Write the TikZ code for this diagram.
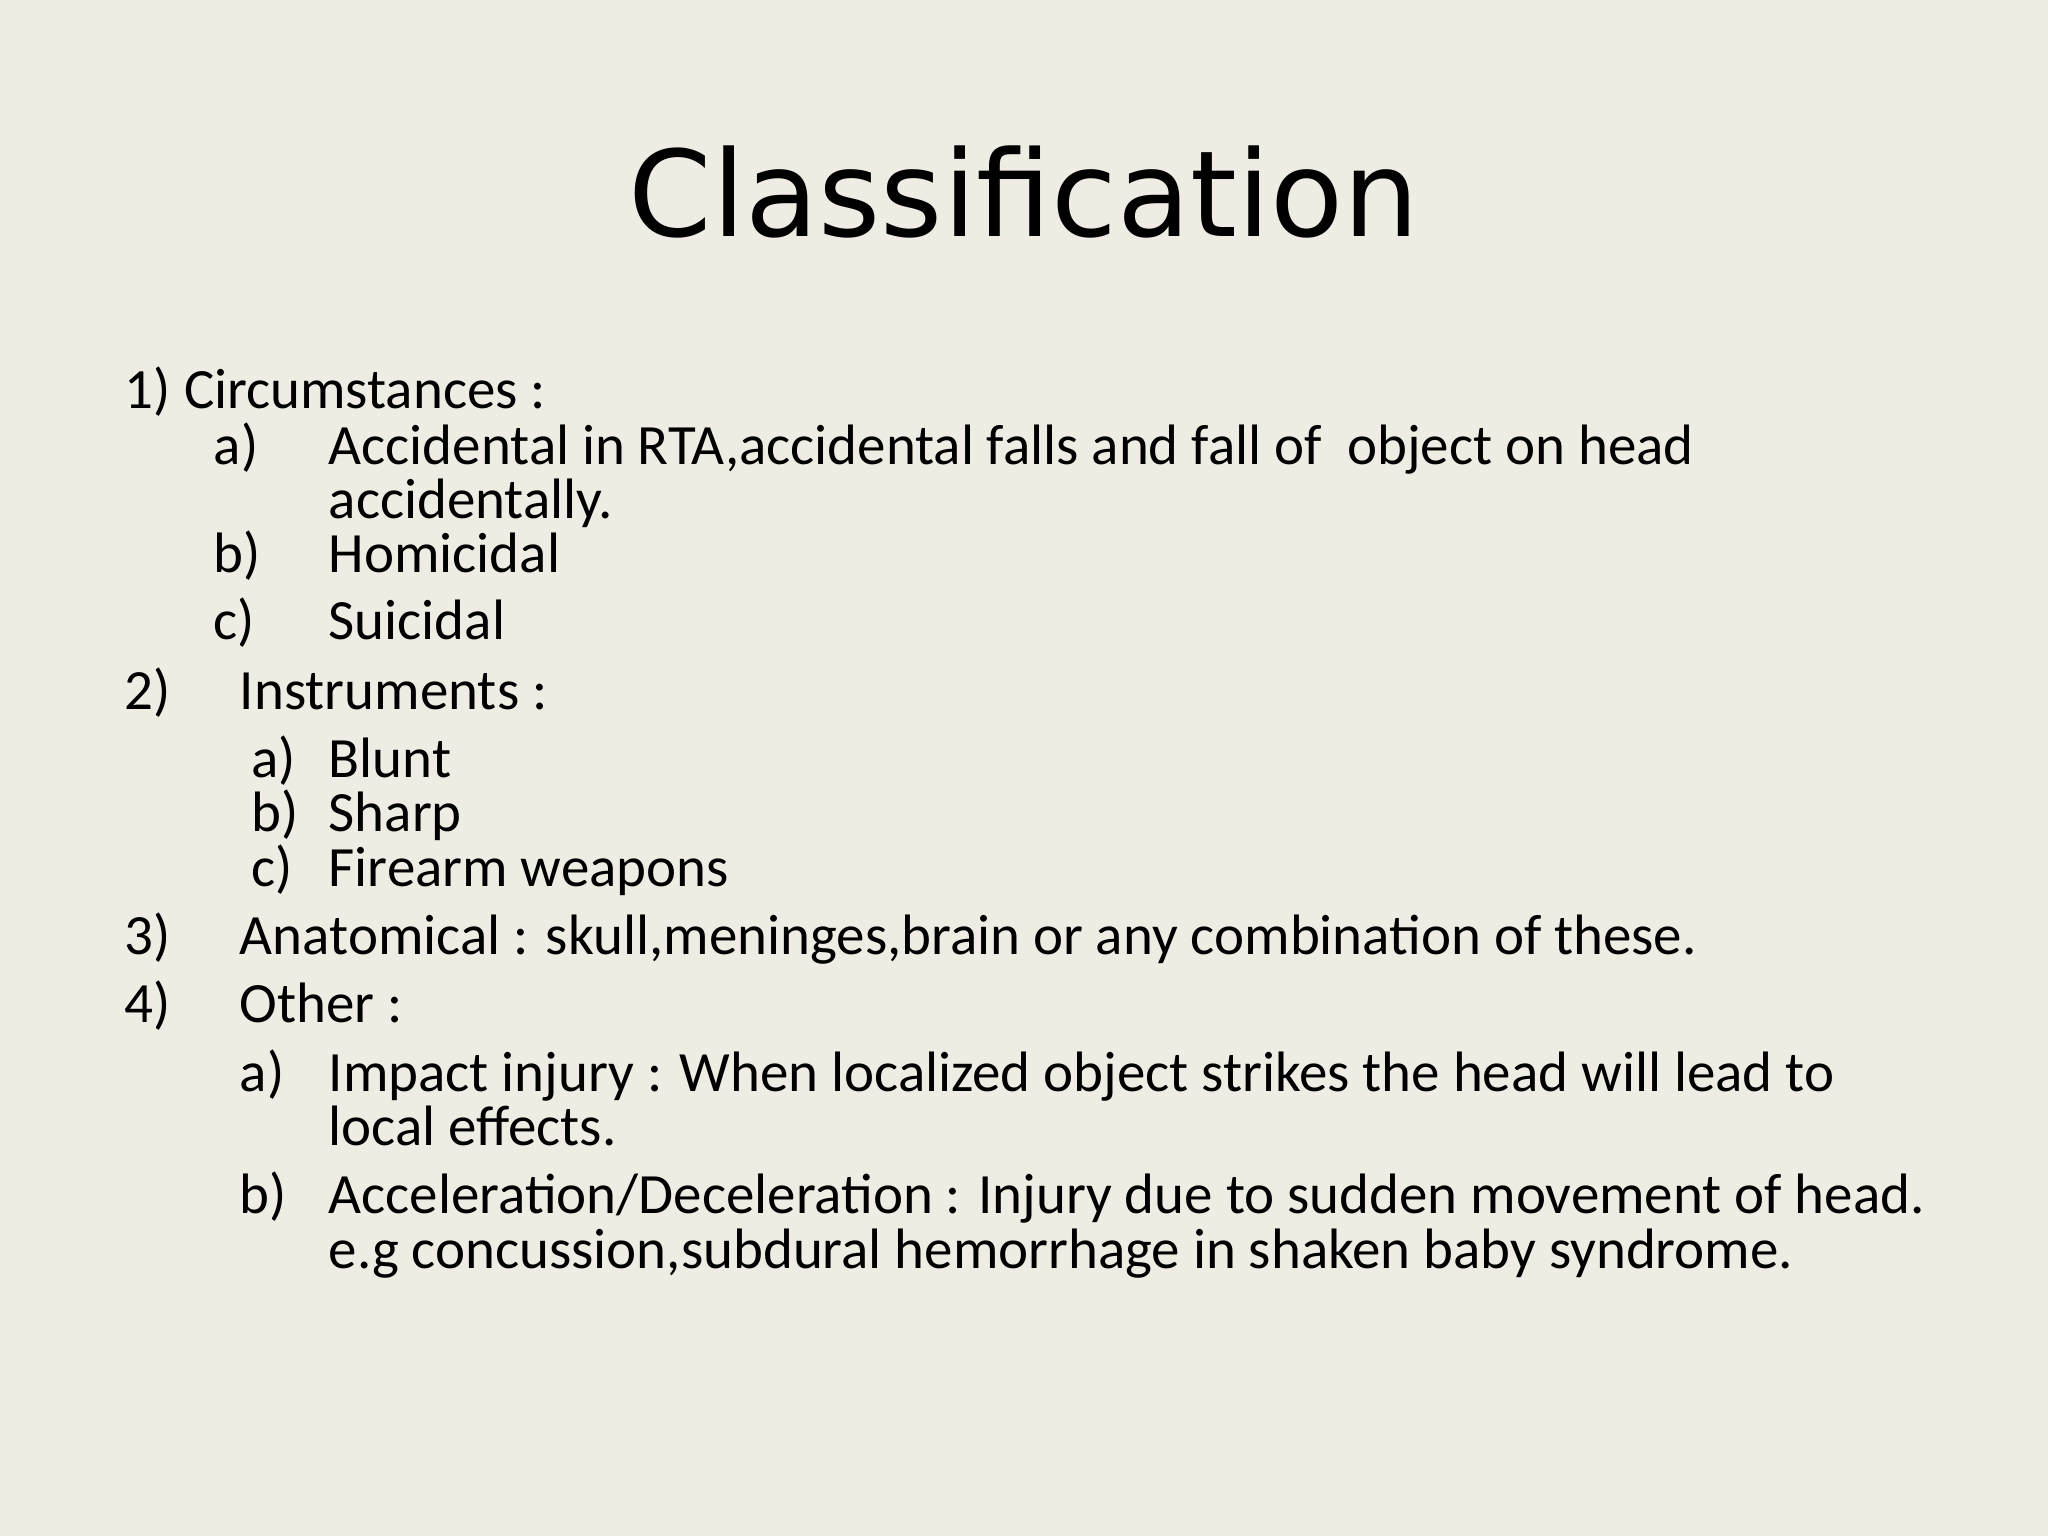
\documentclass[tikz,border=0pt]{standalone}
\usepackage{fontspec}
\setmainfont{Carlito}
\newfontfamily\titlefont{DejaVu Sans}
\definecolor{bg}{HTML}{EFECE4}
\begin{document}
\begin{tikzpicture}[x=0.01cm,y=-0.01cm,
  t/.style={anchor=base west,inner sep=0pt,font=\fontsize{12.4pt}{14pt}\selectfont}]
\fill[bg] (0,0) rectangle (1568,1176);
\useasboundingbox (0,0) rectangle (1568,1176);
\node[anchor=base,inner sep=0pt,font=\titlefont\fontsize{26pt}{30pt}\selectfont] (title) at (784,181) {Classification};
\node[t] (l1) at (95,313) {1) Circumstances :};
\node[t] (l1a) at (163,356) {a)};
\node[t] (l1at) at (251,356) {Accidental in RTA,accidental falls and fall of\ \ object on head};
\node[t] (l1at2) at (251,397) {accidentally.};
\node[t] (l1b) at (163,438) {b)};
\node[t] (l1bt) at (251,438) {Homicidal};
\node[t] (l1c) at (163,490) {c)};
\node[t] (l1ct) at (251,490) {Suicidal};
\node[t] (l2) at (95,543) {2)};
\node[t] (l2t) at (183,543) {Instruments :};
\node[t] (l2a) at (192,595) {a)};
\node[t] (l2at) at (251,595) {Blunt};
\node[t] (l2b) at (192,637) {b)};
\node[t] (l2bt) at (251,637) {Sharp};
\node[t] (l2c) at (192,679) {c)};
\node[t] (l2ct) at (251,679) {Firearm weapons};
\node[t] (l3) at (95,731) {3)};
\node[t] (l3t) at (183,731) {Anatomical : skull,meninges,brain or any combination of these.};
\node[t] (l4) at (95,783) {4)};
\node[t] (l4t) at (183,783) {Other :};
\node[t] (l4a) at (183,836) {a)};
\node[t] (l4at) at (251,836) {Impact injury : When localized object strikes the head will lead to};
\node[t] (l4at2) at (251,877) {local effects.};
\node[t] (l4b) at (183,929) {b)};
\node[t] (l4bt) at (251,929) {Acceleration/Deceleration : Injury due to sudden movement of head.};
\node[t] (l4bt2) at (251,971) {e.g concussion,subdural hemorrhage in shaken baby syndrome.};
\end{tikzpicture}
\end{document}
